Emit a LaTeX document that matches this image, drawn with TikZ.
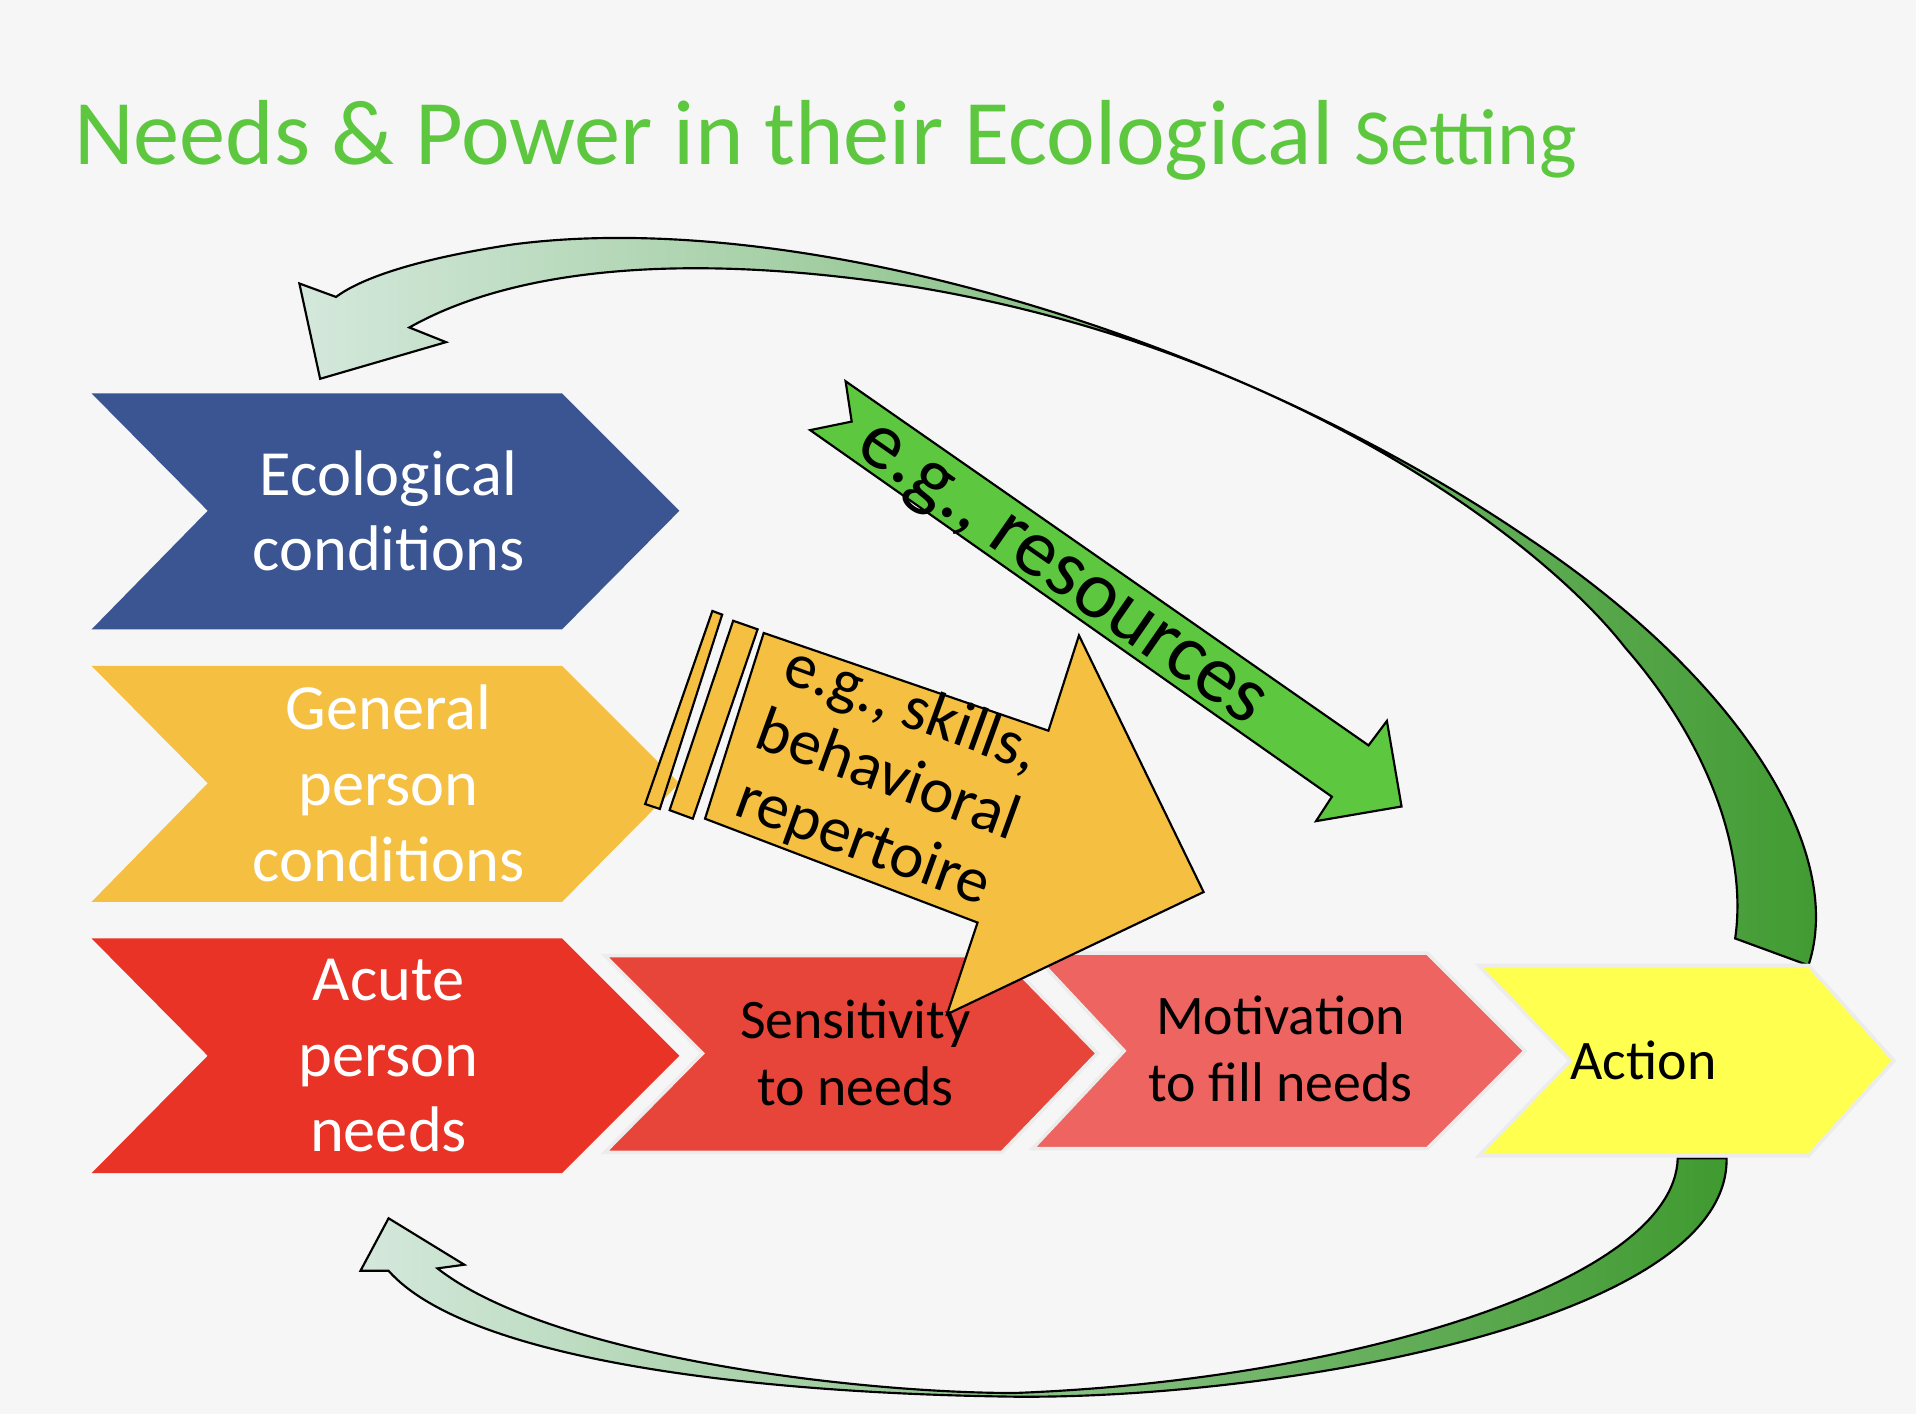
\documentclass[tikz,border=0pt]{standalone}
\usepackage{fontspec}
\setmainfont{Carlito}
\definecolor{bg}{HTML}{F6F6F6}
\definecolor{ttl}{HTML}{5DC83F}
\definecolor{cblue}{HTML}{3A5591}
\definecolor{cyel}{HTML}{F5BF42}
\definecolor{cred}{HTML}{E83326}
\definecolor{cred2}{HTML}{E8453A}
\definecolor{cpink}{HTML}{EE6460}
\definecolor{cact}{HTML}{FFFF4F}
\definecolor{gres}{HTML}{5DC83F}
\definecolor{gdark}{HTML}{3F9A2F}
\definecolor{glight}{HTML}{D4E8DC}
\begin{document}
\begin{tikzpicture}[x=0.01cm,y=-0.01cm,
  wt/.style={text=white,align=center,font=\fontsize{15}{17.6}\selectfont},
  bt/.style={text=black,align=center,font=\fontsize{13}{15.6}\selectfont},
  chev/.style={draw=white!85!gray,line width=0.8pt}]
\fill[bg] (0,0) rectangle (1568,1157);
\useasboundingbox (0,0) rectangle (1568,1157);
\node[anchor=base west,text=ttl,inner sep=0,font=\fontsize{21.5}{26}\selectfont] (title) at (60,135) {Needs \& Power in their Ecological {\fontsize{18.5}{22}\selectfont Setting}};
% curved arrows
\path[draw=black,line width=0.5pt,left color=glight,right color=gdark]
 (1480,790) .. controls (1510,700) and (1430,560) .. (1250,440) .. controls (1000,270) and (650,170) .. (420,200) .. controls (340,212) and (295,228) .. (275,243)
 -- (245,232) -- (262,310) -- (365,280) -- (335,268)
 .. controls (420,220) and (560,205) .. (750,235) .. controls (1050,285) and (1260,440) .. (1330,530) .. controls (1400,610) and (1430,700) .. (1420,768) -- cycle;
\path[draw=black,line width=0.5pt,left color=glight,right color=gdark]
 (1413,948) .. controls (1415,1080) and (1050,1145) .. (830,1143) .. controls (600,1140) and (380,1110) .. (318,1040)
 -- (295,1040) -- (318,997) -- (380,1035) -- (358,1038)
 .. controls (450,1110) and (700,1140) .. (830,1140) .. controls (1100,1130) and (1370,1050) .. (1373,948) -- cycle;
% chevrons
\fill[cblue] (75,322) -- (460,322) -- (556,418) -- (460,515) -- (75,515) -- (170,418) -- cycle;
\node[wt] (eco) at (318,418) {Ecological\\conditions};
\fill[cyel] (75,545) -- (460,545) -- (556,641) -- (460,738) -- (75,738) -- (170,641) -- cycle;
\node[wt] (gen) at (318,641) {General\\person\\conditions};
\fill[cred] (75,768) -- (460,768) -- (556,864) -- (460,960) -- (75,960) -- (170,864) -- cycle;
\node[wt] (acu) at (318,864) {Acute\\person\\needs};
\path[chev,fill=cred2] (495,782) -- (820,782) -- (898,862) -- (820,943) -- (495,943) -- (575,862) -- cycle;
\path[chev,fill=cpink] (845,780) -- (1168,780) -- (1248,860) -- (1168,940) -- (845,940) -- (920,860) -- cycle;
\path[chev,fill=cact] (1210,790) -- (1480,790) -- (1550,868) -- (1480,946) -- (1210,946) -- (1285,868) -- cycle;
\node[bt] (mot) at (1048,858) {Motivation\\to fill needs};
\node[bt] (act) at (1345,868) {Action};
% striped yellow arrow
\path[draw=black,line width=0.5pt,fill=cyel] (583,500) -- (591,503) -- (540,662) -- (528,658) -- cycle;
\path[draw=black,line width=0.5pt,fill=cyel] (600,508) -- (620,515) -- (567,670) -- (548,663) -- cycle;
\path[draw=black,line width=0.5pt,fill=cyel] (625,518) -- (858,598) -- (883,520) -- (985,730) -- (775,830) -- (800,755) -- (577,670) -- cycle;
\node[bt] (sen) at (700,862) {Sensitivity\\to needs};
\node[text=black,align=center,font=\fontsize{15}{16.5}\selectfont,rotate=-20] (ski) at (726,636) {e.g., skills,\\behavioral\\repertoire};
% green arrow
\path[draw=black,line width=0.5pt,fill=gres] (692,312) -- (1120,610) -- (1135,590) -- (1147,660) -- (1077,672) -- (1090,652) -- (663,352) -- (697,345) -- cycle;
\node[text=black,font=\fontsize{19}{21}\selectfont,rotate=-34.8] (res) at (866,474) {e.g., resources};
\end{tikzpicture}
\end{document}
